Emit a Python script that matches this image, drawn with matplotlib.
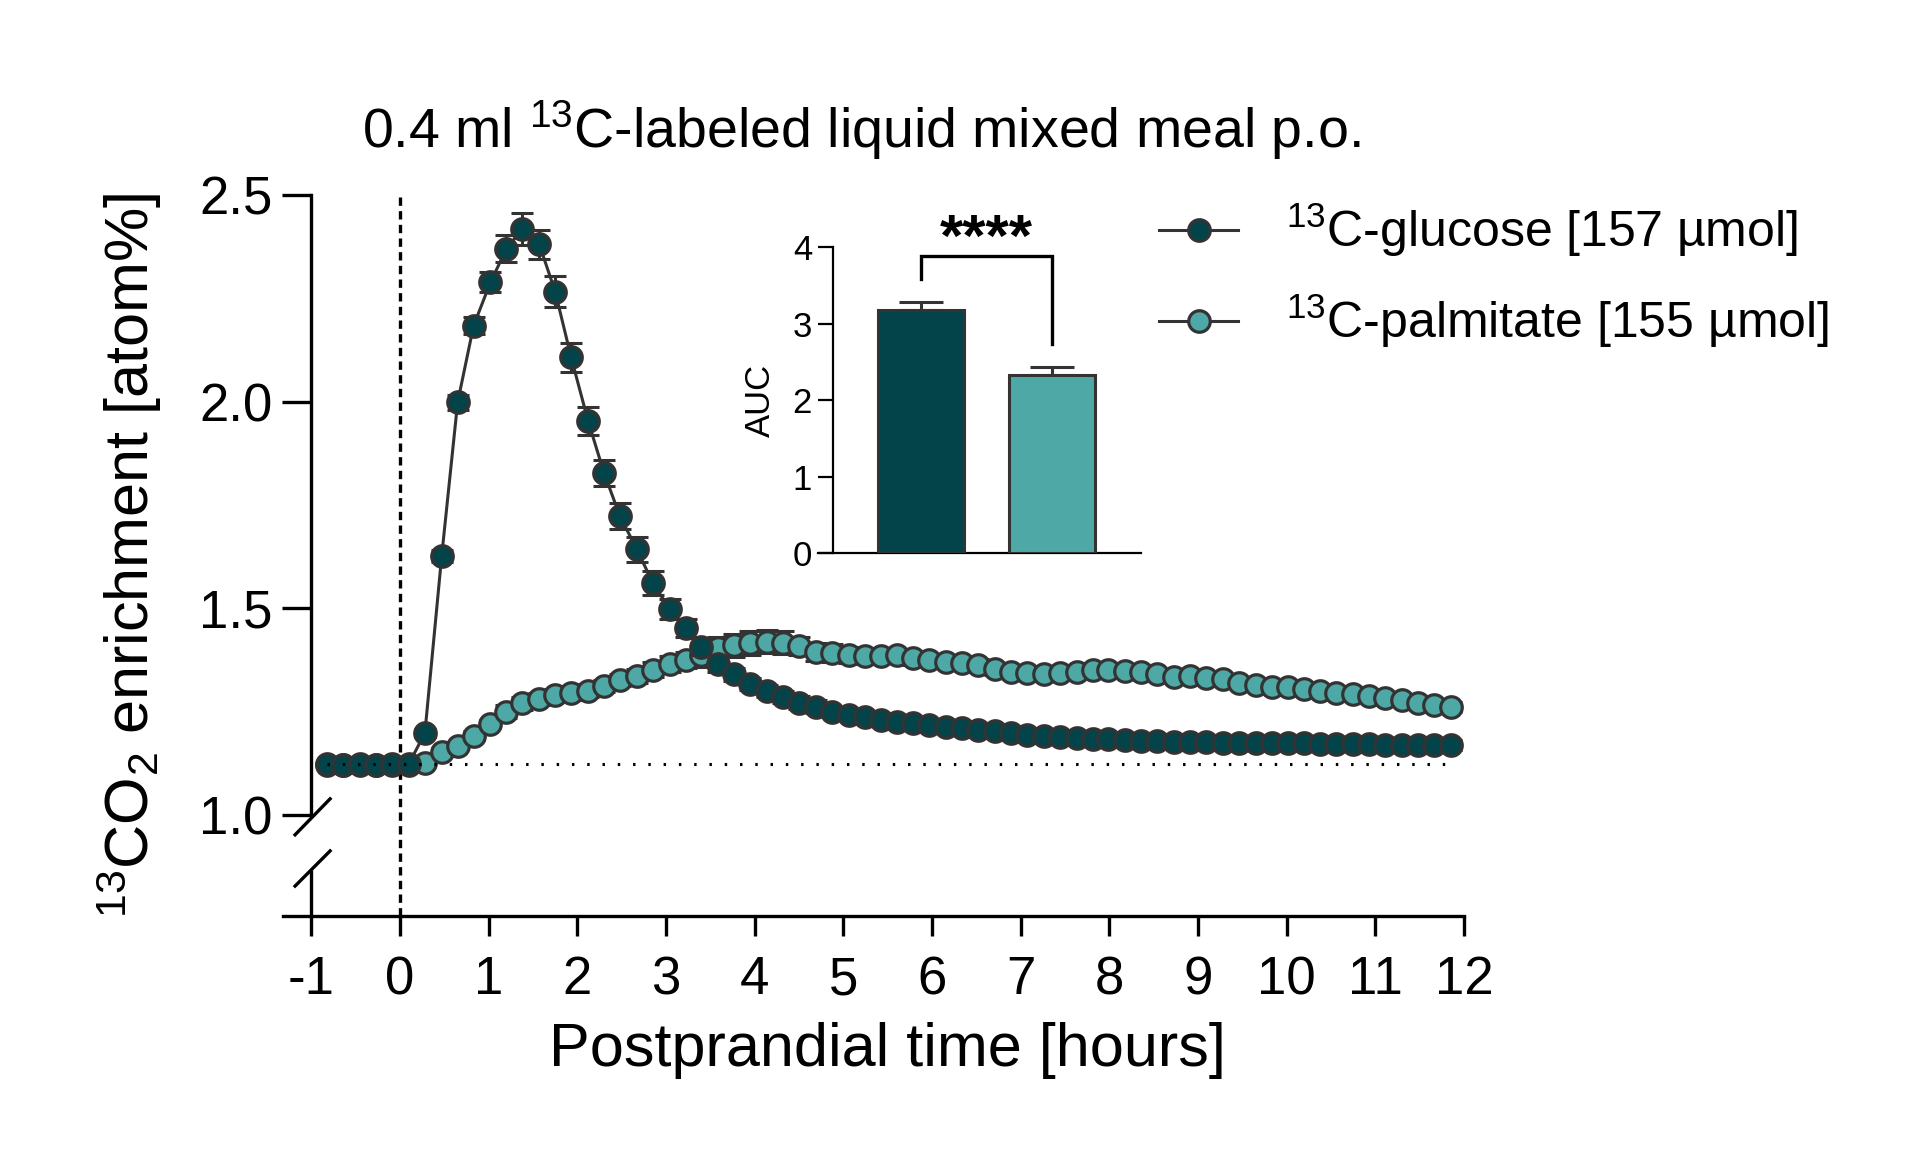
import matplotlib
matplotlib.use('Agg')
import matplotlib.pyplot as plt
import numpy as np

# Fonts (Arial look-alike) incl. mathtext for super/subscripts
plt.rcParams['font.family'] = 'Liberation Sans'
plt.rcParams['mathtext.fontset'] = 'custom'
plt.rcParams['mathtext.rm'] = 'Liberation Sans'
plt.rcParams['mathtext.it'] = 'Liberation Sans:italic'
plt.rcParams['mathtext.bf'] = 'Liberation Sans:bold'
plt.rcParams['axes.unicode_minus'] = False

# ---- data -------------------------------------------------------------
time_h = [-0.82, -0.64, -0.45, -0.27, -0.09, 0.10, 0.28, 0.47, 0.65, 0.83,
          1.02, 1.20, 1.38, 1.57, 1.75, 1.93, 2.12, 2.30, 2.48, 2.67,
          2.85, 3.04, 3.22, 3.40, 3.59, 3.77, 3.95, 4.14, 4.32, 4.50,
          4.69, 4.87, 5.06, 5.24, 5.42, 5.61, 5.79, 5.97, 6.16, 6.34,
          6.52, 6.71, 6.89, 7.07, 7.26, 7.44, 7.63, 7.81, 7.99, 8.18,
          8.36, 8.54, 8.73, 8.91, 9.09, 9.28, 9.46, 9.65, 9.83, 10.01,
          10.20, 10.38, 10.56, 10.75, 10.93, 11.11, 11.30, 11.48, 11.66, 11.85]

glucose = [1.123, 1.122, 1.123, 1.122, 1.123, 1.124, 1.198, 1.627, 1.999, 2.184,
           2.289, 2.370, 2.418, 2.381, 2.266, 2.107, 1.954, 1.828, 1.723, 1.643,
           1.562, 1.498, 1.452, 1.407, 1.365, 1.340, 1.317, 1.300, 1.285, 1.272,
           1.262, 1.250, 1.242, 1.236, 1.230, 1.226, 1.222, 1.218, 1.214, 1.210,
           1.206, 1.202, 1.198, 1.194, 1.191, 1.189, 1.187, 1.185, 1.183, 1.181,
           1.179, 1.178, 1.177, 1.176, 1.176, 1.175, 1.175, 1.174, 1.174, 1.173,
           1.173, 1.172, 1.172, 1.171, 1.171, 1.170, 1.170, 1.169, 1.169, 1.169]

glucose_sem = [0.004, 0.004, 0.004, 0.004, 0.004, 0.004, 0.010, 0.015, 0.018, 0.020,
               0.024, 0.033, 0.038, 0.035, 0.038, 0.035, 0.034, 0.032, 0.032, 0.030,
               0.029, 0.025, 0.022, 0.020, 0.018, 0.015, 0.015, 0.015, 0.015, 0.015,
               0.015, 0.012, 0.012, 0.012, 0.012, 0.012, 0.012, 0.012, 0.012, 0.012,
               0.012, 0.012, 0.012, 0.012, 0.012, 0.012, 0.012, 0.012, 0.012, 0.012,
               0.012, 0.012, 0.012, 0.012, 0.012, 0.012, 0.012, 0.012, 0.012, 0.012,
               0.012, 0.012, 0.012, 0.012, 0.012, 0.012, 0.012, 0.012, 0.012, 0.012]

palmitate = [1.122, 1.121, 1.122, 1.121, 1.122, 1.122, 1.125, 1.153, 1.168, 1.192,
             1.220, 1.250, 1.270, 1.281, 1.290, 1.294, 1.301, 1.312, 1.327, 1.336,
             1.351, 1.365, 1.375, 1.387, 1.403, 1.411, 1.415, 1.419, 1.417, 1.409,
             1.395, 1.391, 1.387, 1.385, 1.385, 1.387, 1.379, 1.375, 1.371, 1.367,
             1.363, 1.353, 1.347, 1.343, 1.341, 1.343, 1.347, 1.351, 1.351, 1.349,
             1.347, 1.340, 1.335, 1.336, 1.332, 1.328, 1.320, 1.315, 1.309, 1.310,
             1.304, 1.300, 1.296, 1.292, 1.289, 1.282, 1.278, 1.272, 1.266, 1.262]

palmitate_sem = [0.004, 0.004, 0.004, 0.004, 0.004, 0.004, 0.008, 0.008, 0.008, 0.010,
                 0.010, 0.015, 0.015, 0.015, 0.015, 0.015, 0.015, 0.015, 0.015, 0.016,
                 0.018, 0.020, 0.020, 0.028, 0.028, 0.028, 0.029, 0.028, 0.028, 0.022,
                 0.022, 0.022, 0.020, 0.020, 0.015, 0.015, 0.015, 0.015, 0.015, 0.015,
                 0.015, 0.015, 0.015, 0.015, 0.015, 0.015, 0.015, 0.015, 0.015, 0.014,
                 0.014, 0.014, 0.014, 0.014, 0.014, 0.013, 0.013, 0.013, 0.013, 0.013,
                 0.013, 0.013, 0.012, 0.012, 0.012, 0.012, 0.012, 0.012, 0.012, 0.012]

baseline = 1.123

auc_groups = ['glucose', 'palmitate']
auc_mean = [3.18, 2.33]
auc_sem = [0.10, 0.10]

series_labels = [r'$^{13}$C-glucose [157 µmol]', r'$^{13}$C-palmitate [155 µmol]']

# ---- style ------------------------------------------------------------
dark = '#03444a'
light = '#4ea8a5'
edge = '#333333'

fig = plt.figure(figsize=(19.2, 11.63), dpi=100)
ax = fig.add_axes([0.1474, 0.2124, 0.6151, 0.6199])

ax.set_xlim(-1.32, 12)
ax.set_ylim(0.7556, 2.5)

# palmitate first, glucose on top
ax.errorbar(time_h, palmitate, yerr=palmitate_sem, fmt='none', ecolor=edge,
            elinewidth=2.2, capsize=8, capthick=2.2, zorder=2)
l_pal, = ax.plot(time_h, palmitate, '-o', color=edge, lw=2.2, ms=15.5,
                 mfc=light, mec=edge, mew=2.3, zorder=3)
ax.errorbar(time_h, glucose, yerr=glucose_sem, fmt='none', ecolor=edge,
            elinewidth=2.2, capsize=8, capthick=2.2, zorder=4)
l_glc, = ax.plot(time_h, glucose, '-o', color=edge, lw=2.2, ms=15.5,
                 mfc=dark, mec=edge, mew=2.3, zorder=5)

# reference lines
ax.axvline(0, color='black', lw=2.4, ls=(0, (2.5, 1.6)), zorder=1)
ax.hlines(baseline, time_h[0], time_h[-1], color='black', lw=2.2,
          linestyles=(0, (0.8, 4.2)), zorder=6)

# axes / broken y axis
for s in ['top', 'right']:
    ax.spines[s].set_visible(False)
ax.spines['left'].set_position(('data', -1))
ax.spines['left'].set_bounds(1.0, 2.5)
ax.spines['left'].set_linewidth(2.4)
ax.spines['bottom'].set_linewidth(2.4)
ax.plot([-1, -1], [0.7556, 0.867], color='black', lw=2.4, clip_on=False,
        solid_capstyle='butt')
ax.plot([-1.184, -0.789], [0.952, 1.039], color='black', lw=2.4, clip_on=False)
ax.plot([-1.184, -0.789], [0.828, 0.913], color='black', lw=2.4, clip_on=False)

ax.set_yticks([1.0, 1.5, 2.0, 2.5])
ax.set_yticklabels(['1.0', '1.5', '2.0', '2.5'])
ax.set_xticks(np.arange(-1, 13))
ax.tick_params(axis='y', length=21, width=2.4, labelsize=38, pad=7)
ax.tick_params(axis='x', length=14.4, width=2.4, labelsize=38, pad=14)

ax.set_xlabel('Postprandial time [hours]', fontsize=44, labelpad=12)
ax.xaxis.label.set_x(0.512)
ax.set_ylabel(r'$^{13}$CO$_2$ enrichment [atom%]', fontsize=44, labelpad=25)

fig.text(0.4484, 0.8727, r'0.4 ml $^{13}$C-labeled liquid mixed meal p.o.',
         fontsize=40, ha='center', va='baseline')

fig.legend([l_glc, l_pal], series_labels, loc='upper left',
           bbox_to_anchor=(1159 / 1920, 1 - 201 / 1163), frameon=False,
           fontsize=36, handlelength=1.58, handletextpad=0.95,
           labelspacing=0.66, borderpad=0, borderaxespad=0)

# ---- inset: AUC bars ------------------------------------------------------
axi = fig.add_axes([0.4260, 0.5245, 0.1682, 0.2631])
xpos = np.arange(len(auc_groups))
axi.bar(xpos, auc_mean, width=0.654, color=[dark, light], edgecolor=edge,
        linewidth=2.2, zorder=3)
axi.errorbar(xpos, auc_mean, yerr=[[0] * len(auc_sem), auc_sem], fmt='none',
             ecolor=edge, elinewidth=2.2, capsize=15.5, capthick=2.2, zorder=2)
axi.set_xlim(-0.783, 1.673)
axi.set_ylim(0, 4)
axi.set_xticks([])
axi.set_yticks([0, 1, 2, 3, 4])
for s in ['top', 'right']:
    axi.spines[s].set_visible(False)
axi.spines['left'].set_position(('data', -0.669))
axi.spines['left'].set_linewidth(1.6)
axi.spines['bottom'].set_linewidth(1.6)
axi.tick_params(axis='y', length=11, width=1.6, labelsize=25, pad=4)
axi.set_ylabel('AUC', fontsize=25, labelpad=11)

# significance bracket
tops = np.array(auc_mean) + np.array(auc_sem)
top_y = tops.max() + 0.6
axi.plot([xpos[0], xpos[0], xpos[1], xpos[1]],
         [tops[0] + 0.3, top_y, top_y, tops[1] + 0.3],
         color='black', lw=2.4, clip_on=False, solid_joinstyle='miter')
axi.text((xpos[0] + xpos[1]) / 2 - 0.005, top_y - 0.0, '****', ha='center',
         va='baseline', fontsize=43, fontweight='bold', clip_on=False)

fig.savefig('out.png', dpi=100)
